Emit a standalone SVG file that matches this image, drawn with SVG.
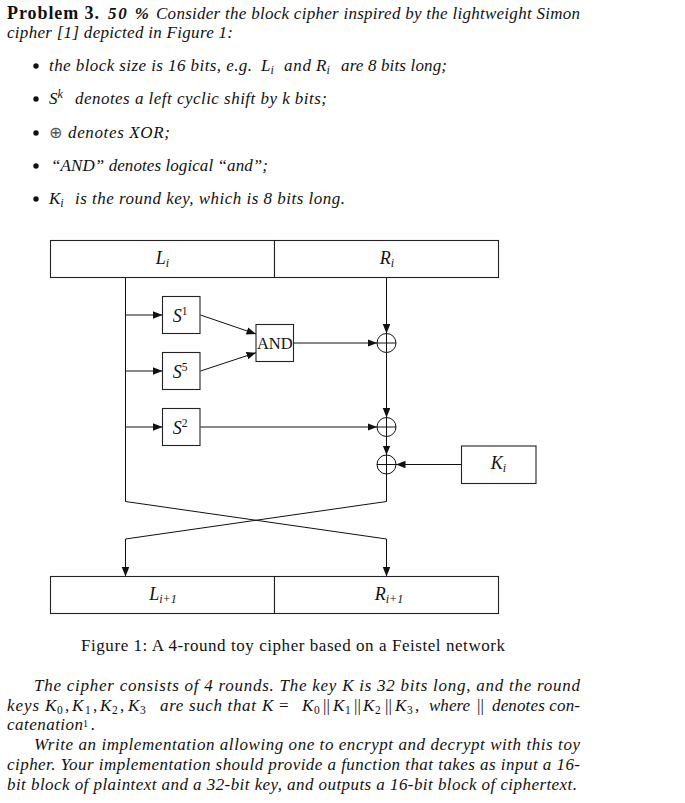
<svg xmlns="http://www.w3.org/2000/svg" width="685" height="803" viewBox="0 0 685 803">
<style>
text{font-family:"Liberation Serif","Times New Roman",serif;font-size:17px;fill:#111;font-style:italic}
.r{font-style:normal}
.b{font-weight:bold;font-style:normal;font-size:18px}
.bi{font-weight:bold;font-style:italic}
.m{text-anchor:middle;font-size:18px}
.s{font-size:12px}
.sr{font-size:11.5px;font-style:normal}
.box{fill:#fff;stroke:#222;stroke-width:1.1}
.ln{fill:none;stroke:#111;stroke-width:1}
.ar{fill:none;stroke:#111;stroke-width:1;marker-end:url(#a)}
.dot{fill:#111;stroke:none}
</style>
<defs>
<marker id="a" markerUnits="userSpaceOnUse" markerWidth="11" markerHeight="9" refX="9.5" refY="3.75" orient="auto"><path d="M0 0L9.5 3.75L0 7.5Z" fill="#111"/></marker>
</defs>
<rect width="685" height="803" fill="#fff"/>
<g id="intro">
<text x="7" y="19" class="b" textLength="92">Problem 3.</text>
<text x="108" y="19" class="bi" textLength="41">50 %</text>
<text x="156" y="19" textLength="424">Consider the block cipher inspired by the lightweight Simon</text>
<text x="7" y="38" textLength="226">cipher [1] depicted in Figure 1:</text>
</g>
<g id="bullets">
<circle class="dot" cx="36" cy="66" r="2.7"/><circle class="dot" cx="36" cy="99" r="2.7"/><circle class="dot" cx="36" cy="133" r="2.7"/><circle class="dot" cx="36" cy="166" r="2.7"/><circle class="dot" cx="36" cy="199" r="2.7"/>
<text x="49" y="71" textLength="203">the block size is 16 bits, e.g.</text>
<text x="261" y="71">L<tspan class="s" dy="3">i</tspan></text>
<text x="284" y="71" textLength="27">and</text>
<text x="316" y="71">R<tspan class="s" dy="3">i</tspan></text>
<text x="341" y="71" textLength="106">are 8 bits long;</text>
<text x="49" y="104">S<tspan class="s" dy="-6">k</tspan></text>
<text x="75" y="104" textLength="252">denotes a left cyclic shift by k bits;</text>
<text x="49" y="138" class="r" style="font-family:'DejaVu Sans',sans-serif;font-size:16px;fill:#555">⊕</text>
<text x="68" y="138" textLength="102">denotes XOR;</text>
<text x="51" y="171" textLength="217">“AND” denotes logical “and”;</text>
<text x="49" y="204">K<tspan class="s" dy="3">i</tspan></text>
<text x="75" y="204" textLength="270">is the round key, which is 8 bits long.</text>
</g>
<g id="connectors">
<path class="ln" d="M125.5 277.5V501.5L386.5 539"/>
<path class="ar" d="M386.5 539V576.5"/>
<path class="ln" d="M386.5 474V501.5L125.5 539"/>
<path class="ar" d="M125.5 539V576.5"/>
<path class="ar" d="M386.5 277.5V333.5"/>
<path class="ar" d="M386.5 352.5V417.5"/>
<path class="ar" d="M386.5 436.5V455"/>
<path class="ar" d="M125.5 315H162.5"/>
<path class="ar" d="M125.5 371H162.5"/>
<path class="ar" d="M125.5 427H162.5"/>
<path class="ar" d="M200.5 315L256 334"/>
<path class="ar" d="M200.5 371L256 352.7"/>
<path class="ar" d="M293.5 343H377"/>
<path class="ar" d="M200.5 427H377"/>
<path class="ar" d="M461.5 464.5H396"/>
</g>
<g id="Li"><rect class="box" x="50.5" y="240.5" width="224" height="37"/><text class="m" x="162.5" y="264">L<tspan class="s" dy="3">i</tspan></text></g>
<g id="Ri"><rect class="box" x="274.5" y="240.5" width="224" height="37"/><text class="m" x="387" y="264">R<tspan class="s" dy="3">i</tspan></text></g>
<g id="S1"><rect class="box" x="162.5" y="296.5" width="37.5" height="37"/><text class="m" x="180" y="322">S<tspan class="sr" dy="-7">1</tspan></text></g>
<g id="S5"><rect class="box" x="162.5" y="352.5" width="37.5" height="37"/><text class="m" x="180" y="378">S<tspan class="sr" dy="-7">5</tspan></text></g>
<g id="S2"><rect class="box" x="162.5" y="408.5" width="37.5" height="37"/><text class="m" x="180" y="434">S<tspan class="sr" dy="-7">2</tspan></text></g>
<g id="AND"><rect class="box" x="256" y="324.5" width="37.5" height="37"/><text class="m r" x="274.75" y="349" style="font-size:16.5px">AND</text></g>
<g id="xor1"><circle class="ln" cx="386.5" cy="343" r="9.5"/><path class="ln" d="M377 343H396M386.5 333.5V352.5"/></g>
<g id="xor2"><circle class="ln" cx="386.5" cy="427" r="9.5"/><path class="ln" d="M377 427H396M386.5 417.5V436.5"/></g>
<g id="xor3"><circle class="ln" cx="386.5" cy="464.5" r="9.5"/><path class="ln" d="M377 464.5H396M386.5 455V474"/></g>
<g id="Ki"><rect class="box" x="461.5" y="446" width="74.5" height="37.5"/><text class="m" x="498.5" y="469">K<tspan class="s" dy="3">i</tspan></text></g>
<g id="Li1"><rect class="box" x="50.5" y="576.5" width="224" height="37"/><text class="m" x="163" y="600">L<tspan class="s" dy="3">i+1</tspan></text></g>
<g id="Ri1"><rect class="box" x="274.5" y="576.5" width="224" height="37"/><text class="m" x="389" y="600">R<tspan class="s" dy="3">i+1</tspan></text></g>
<g id="caption"><text class="r" x="81" y="651" textLength="424">Figure 1: A 4-round toy cipher based on a Feistel network</text></g>
<g id="body">
<text x="34" y="691" textLength="546">The cipher consists of 4 rounds. The key K is 32 bits long, and the round</text>
<text x="7" y="711" textLength="32">keys</text>
<text y="711"><tspan x="45">K</tspan><tspan class="sr" x="57" dy="3">0</tspan><tspan class="r" x="65" dy="-3">,</tspan><tspan x="72">K</tspan><tspan class="sr" x="85" dy="3">1</tspan><tspan class="r" x="93" dy="-3">,</tspan><tspan x="100">K</tspan><tspan class="sr" x="112" dy="3">2</tspan><tspan class="r" x="120" dy="-3">,</tspan><tspan x="128">K</tspan><tspan class="sr" x="140" dy="3">3</tspan></text>
<text x="160" y="711" textLength="96">are such that</text>
<text x="262" y="711">K</text>
<text x="279" y="711" class="r">=</text>
<text y="711"><tspan x="302">K</tspan><tspan class="sr" x="314" dy="3">0</tspan><tspan class="r" x="323" dy="-3">||</tspan><tspan x="333">K</tspan><tspan class="sr" x="345" dy="3">1</tspan><tspan class="r" x="354" dy="-3">||</tspan><tspan x="363">K</tspan><tspan class="sr" x="375" dy="3">2</tspan><tspan class="r" x="385" dy="-3">||</tspan><tspan x="395">K</tspan><tspan class="sr" x="407" dy="3">3</tspan><tspan class="r" x="415" dy="-3">,</tspan></text>
<text x="429" y="711" textLength="41">where</text>
<text x="477" y="711" class="r">||</text>
<text x="492" y="711" textLength="88">denotes con-</text>
<text x="7" y="730" textLength="76">catenation</text>
<text x="83" y="727" class="r" style="font-size:10px">1</text>
<text x="91" y="730">.</text>
<text x="34" y="750" textLength="546">Write an implementation allowing one to encrypt and decrypt with this toy</text>
<text x="7" y="770" textLength="573">cipher. Your implementation should provide a function that takes as input a 16-</text>
<text x="7" y="790" textLength="570">bit block of plaintext and a 32-bit key, and outputs a 16-bit block of ciphertext.</text>
</g>
</svg>
